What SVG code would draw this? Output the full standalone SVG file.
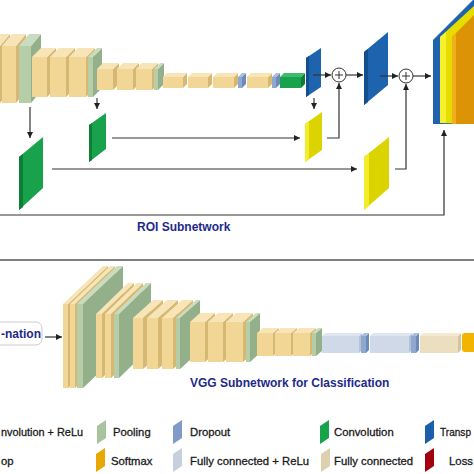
<svg xmlns="http://www.w3.org/2000/svg" width="474" height="474" viewBox="0 0 474 474">
<defs>
<marker id="ah" markerWidth="6" markerHeight="6" refX="6" refY="3" orient="auto" markerUnits="userSpaceOnUse"><path d="M0,0 L6,3 L0,6 z" fill="#222"/></marker>
<style>
.bf{fill:#f1d695}.bt{fill:#f7e5b8}.bs{fill:#d6b872}
.gf{fill:#b6cea8}.gt{fill:#cadcbf}.gs{fill:#93b08b}
.df{fill:#8ea8cf}.dt{fill:#a9bedc}.ds{fill:#6d8bb9}
.cf{fill:#17a24b}.ct{fill:#3cbc6a}.cs{fill:#0d7d37}
.lf{fill:#cfd9e7}.lt{fill:#dfe6f0}.ls{fill:#b3c2d6}
.ff{fill:#ecdfc0}.ft{fill:#f3eacf}.fs{fill:#d4c49e}
.ln{fill:none;stroke:#333;stroke-width:1.2}
.ttl{font-family:"Liberation Sans",Arial,sans-serif;font-weight:bold;font-size:12px;fill:#1d2a8c}
.lg{font-family:"Liberation Sans",Arial,sans-serif;font-size:11.3px;fill:#1a1a1a;stroke:#1a1a1a;stroke-width:0.3}
</style>
</defs>
<rect width="474" height="474" fill="#fff"/>

<!-- ROI encoder blocks -->
<g id="roi-block-a">
<polygon class="bs" points="0,46 10,34 10,91 0,103"/><polygon class="bt" points="-12,46 -2,34 10,34 0,46"/><rect class="bf" x="-12" y="46" width="12" height="57"/>
<polygon class="bs" points="16,46 26,34 26,91 16,103"/><polygon class="bt" points="2,46 12,34 26,34 16,46"/><rect class="bf" x="2" y="46" width="14" height="57"/>
<polygon class="gs" points="31,46 41,34 41,91 31,103"/><polygon class="gt" points="19,46 29,34 41,34 31,46"/><rect class="gf" x="19" y="46" width="12" height="57"/>
</g>
<g id="roi-block-b">
<polygon class="bs" points="47,57 56,48 56,88 47,97"/><polygon class="bt" points="32,57 41,48 56,48 47,57"/><rect class="bf" x="32" y="57" width="15" height="40"/>
<polygon class="bs" points="66,57 75,48 75,88 66,97"/><polygon class="bt" points="50,57 59,48 75,48 66,57"/><rect class="bf" x="50" y="57" width="16" height="40"/>
<polygon class="bs" points="86,57 95,48 95,88 86,97"/><polygon class="bt" points="69,57 78,48 95,48 86,57"/><rect class="bf" x="69" y="57" width="17" height="40"/>
<polygon class="gs" points="93,57 102,48 102,88 93,97"/><polygon class="gt" points="88,57 97,48 102,48 93,57"/><rect class="gf" x="88" y="57" width="5" height="40"/>
</g>
<g id="roi-block-c">
<polygon class="bs" points="113,69 119,63 119,84 113,90"/><polygon class="bt" points="97,69 103,63 119,63 113,69"/><rect class="bf" x="97" y="69" width="16" height="21"/>
<polygon class="bs" points="133,69 139,63 139,84 133,90"/><polygon class="bt" points="117,69 123,63 139,63 133,69"/><rect class="bf" x="117" y="69" width="16" height="21"/>
<polygon class="bs" points="152,69 158,63 158,84 152,90"/><polygon class="bt" points="136,69 142,63 158,63 152,69"/><rect class="bf" x="136" y="69" width="16" height="21"/>
<polygon class="gs" points="158,69 164,63 164,84 158,90"/><polygon class="gt" points="154,69 160,63 164,63 158,69"/><rect class="gf" x="154" y="69" width="4" height="21"/>
</g>
<g id="roi-block-d">
<polygon class="bs" points="183,77 187,73 187,84 183,88"/><polygon class="bt" points="163,77 167,73 187,73 183,77"/><rect class="bf" x="163" y="77" width="20" height="11"/>
<polygon class="bs" points="208,77 212,73 212,84 208,88"/><polygon class="bt" points="188,77 192,73 212,73 208,77"/><rect class="bf" x="188" y="77" width="20" height="11"/>
<polygon class="bs" points="234,77 238,73 238,84 234,88"/><polygon class="bt" points="213,77 217,73 238,73 234,77"/><rect class="bf" x="213" y="77" width="21" height="11"/>
<polygon class="ds" points="242,77 246,73 246,84 242,88"/><polygon class="dt" points="238,77 242,73 246,73 242,77"/><rect class="df" x="238" y="77" width="4" height="11"/>
<polygon class="bs" points="268,77 272,73 272,84 268,88"/><polygon class="bt" points="247,77 251,73 272,73 268,77"/><rect class="bf" x="247" y="77" width="21" height="11"/>
<polygon class="ds" points="276,77 280,73 280,84 276,88"/><polygon class="dt" points="272,77 276,73 280,73 276,77"/><rect class="df" x="272" y="77" width="4" height="11"/>
<polygon class="cs" points="301,77 305,73 305,84 301,88"/><polygon class="ct" points="280,77 284,73 305,73 301,77"/><rect class="cf" x="280" y="77" width="21" height="11"/>
</g>

<!-- decoder plates -->
<g id="blue1"><polygon points="306,58 321,48 321,87 306,97" fill="#1e63ae"/><polygon points="306,58 309,56 309,95 306,97" fill="#134f8e"/></g>
<g id="blue2"><polygon points="364,52 388,32 388,85 364,105" fill="#1e63ae"/><polygon points="364,52 368,49 368,102 364,105" fill="#134f8e"/></g>
<g id="green1"><polygon points="89,125 106,113 106,149 89,162" fill="#17a24b"/><polygon points="89,125 92,123 92,160 89,162" fill="#0d7d37"/></g>
<g id="green2"><polygon points="19,157 43,137 43,188 19,210" fill="#17a24b"/><polygon points="19,157 23,154 23,207 19,210" fill="#0d7d37"/></g>
<g id="yellow1"><polygon points="305,124 322,112 322,150 305,162" fill="#dcd400"/><polygon points="305,124 309,121 309,159 305,162" fill="#f3ec2a"/></g>
<g id="yellow2"><polygon points="364,157 389,137 389,188 364,210" fill="#dcd400"/><polygon points="364,157 369,153 369,206 364,210" fill="#f3ec2a"/></g>
<g id="sum1"><circle cx="339" cy="75" r="7" fill="#fff" stroke="#333" stroke-width="1"/><path d="M335,75 H343 M339,71 V79" stroke="#333" stroke-width="1"/></g>
<g id="sum2"><circle cx="406" cy="76" r="7" fill="#fff" stroke="#333" stroke-width="1"/><path d="M402,76 H410 M406,72 V80" stroke="#333" stroke-width="1"/></g>
<g id="output-stack">
<polygon points="433,40 474,-1 474,124 433,124" fill="#1e63ae"/>
<polygon points="440,37 474,6 474,124 440,123" fill="#e6dc00"/>
<polygon points="440,37 446,32 446,123 440,123" fill="#f7f02e"/>
<polygon points="452,37 474,15 474,124 452,124" fill="#dc9306"/>
<polygon points="452,37 456,33 456,124 452,124" fill="#f0ad1c"/>
</g>

<!-- connectors -->
<g id="connectors">
<path class="ln" d="M313,75 H331" marker-end="url(#ah)"/>
<path class="ln" d="M346,75 H363" marker-end="url(#ah)"/>
<path class="ln" d="M380,76 H398" marker-end="url(#ah)"/>
<path class="ln" d="M413,76 H431" marker-end="url(#ah)"/>
<path class="ln" d="M314,98 V109" marker-end="url(#ah)"/>
<path class="ln" d="M327,138 H339 V83" marker-end="url(#ah)"/>
<path class="ln" d="M395,169 H406 V84" marker-end="url(#ah)"/>
<path class="ln" d="M97,98 V109" marker-end="url(#ah)"/>
<path class="ln" d="M30,107 V138" marker-end="url(#ah)"/>
<path class="ln" d="M112,138 H300" marker-end="url(#ah)"/>
<path class="ln" d="M52,169 H357" marker-end="url(#ah)"/>
<path class="ln" d="M0,215 H444 V130" marker-end="url(#ah)"/>
<path class="ln" d="M45,337 H62" marker-end="url(#ah)"/>
</g>

<text class="ttl" x="137" y="231">ROI Subnetwork</text>
<line x1="0" y1="260" x2="474" y2="260" stroke="#7f7f7f" stroke-width="2.2"/>

<!-- VGG -->
<g id="concat"><rect x="-20" y="322" width="62" height="23" rx="6" fill="none" stroke="#cccccc" stroke-width="1"/><text class="ttl" x="1" y="338">-nation</text></g>
<g id="vgg-block-1">
<polygon class="bs" points="68,304 108,266 108,350 68,388"/><polygon class="bt" points="63,304 103,266 108,266 68,304"/><rect class="bf" x="63" y="304" width="5" height="84"/>
<polygon class="bs" points="75,304 115,266 115,350 75,388"/><polygon class="bt" points="70,304 110,266 115,266 75,304"/><rect class="bf" x="70" y="304" width="5" height="84"/>
<polygon class="gs" points="83,304 123,266 123,350 83,388"/><polygon class="gt" points="77,304 117,266 123,266 83,304"/><rect class="gf" x="77" y="304" width="6" height="84"/>
</g>
<g id="vgg-block-2">
<polygon class="bs" points="102,314 134,283 134,347 102,378"/><polygon class="bt" points="96,314 128,283 134,283 102,314"/><rect class="bf" x="96" y="314" width="6" height="64"/>
<polygon class="bs" points="111,314 143,283 143,347 111,378"/><polygon class="bt" points="105,314 137,283 143,283 111,314"/><rect class="bf" x="105" y="314" width="6" height="64"/>
<polygon class="gs" points="119,314 151,283 151,347 119,378"/><polygon class="gt" points="114,314 146,283 151,283 119,314"/><rect class="gf" x="114" y="314" width="5" height="64"/>
</g>
<g id="vgg-block-3">
<polygon class="bs" points="143,318 163,300 163,351 143,369"/><polygon class="bt" points="133,318 153,300 163,300 143,318"/><rect class="bf" x="133" y="318" width="10" height="51"/>
<polygon class="bs" points="158,318 178,300 178,351 158,369"/><polygon class="bt" points="147,318 167,300 178,300 158,318"/><rect class="bf" x="147" y="318" width="11" height="51"/>
<polygon class="bs" points="173,318 193,300 193,351 173,369"/><polygon class="bt" points="162,318 182,300 193,300 173,318"/><rect class="bf" x="162" y="318" width="11" height="51"/>
<polygon class="gs" points="180,318 200,300 200,351 180,369"/><polygon class="gt" points="176,318 196,300 200,300 180,318"/><rect class="gf" x="176" y="318" width="4" height="51"/>
</g>
<g id="vgg-block-4">
<polygon class="bs" points="205,322 215,313 215,353 205,362"/><polygon class="bt" points="190,322 200,313 215,313 205,322"/><rect class="bf" x="190" y="322" width="15" height="40"/>
<polygon class="bs" points="223,322 233,313 233,353 223,362"/><polygon class="bt" points="208,322 218,313 233,313 223,322"/><rect class="bf" x="208" y="322" width="15" height="40"/>
<polygon class="bs" points="243,322 253,313 253,353 243,362"/><polygon class="bt" points="226,322 236,313 253,313 243,322"/><rect class="bf" x="226" y="322" width="17" height="40"/>
<polygon class="gs" points="250,322 260,313 260,353 250,362"/><polygon class="gt" points="246,322 256,313 260,313 250,322"/><rect class="gf" x="246" y="322" width="4" height="40"/>
</g>
<g id="vgg-block-5">
<polygon class="bs" points="273,333 279,328 279,351 273,356"/><polygon class="bt" points="257,333 263,328 279,328 273,333"/><rect class="bf" x="257" y="333" width="16" height="23"/>
<polygon class="bs" points="291,333 297,328 297,351 291,356"/><polygon class="bt" points="275,333 281,328 297,328 291,333"/><rect class="bf" x="275" y="333" width="16" height="23"/>
<polygon class="bs" points="310,333 316,328 316,351 310,356"/><polygon class="bt" points="293,333 299,328 316,328 310,333"/><rect class="bf" x="293" y="333" width="17" height="23"/>
<polygon class="gs" points="316,333 322,328 322,351 316,356"/><polygon class="gt" points="312,333 318,328 322,328 316,333"/><rect class="gf" x="312" y="333" width="4" height="23"/>
</g>
<g id="vgg-fc">
<polygon class="ls" points="359,336 362,333 362,350 359,353"/><polygon class="lt" points="322,336 325,333 362,333 359,336"/><rect class="lf" x="322" y="336" width="37" height="17"/>
<polygon class="ds" points="366,336 369,333 369,350 366,353"/><polygon class="dt" points="361,336 364,333 369,333 366,336"/><rect class="df" x="361" y="336" width="5" height="17"/>
<polygon class="ls" points="409,336 412,333 412,350 409,353"/><polygon class="lt" points="370,336 373,333 412,333 409,336"/><rect class="lf" x="370" y="336" width="39" height="17"/>
<polygon class="ds" points="416,336 419,333 419,350 416,353"/><polygon class="dt" points="411,336 414,333 419,333 416,336"/><rect class="df" x="411" y="336" width="5" height="17"/>
<polygon class="fs" points="458,336 461,333 461,350 458,353"/><polygon class="ft" points="420,336 423,333 461,333 458,336"/><rect class="ff" x="420" y="336" width="38" height="17"/>
<rect x="462" y="333" width="16" height="19" rx="3" fill="#f2b400"/>
</g>
<text class="ttl" x="190" y="387">VGG Subnetwork for Classification</text>

<!-- legend -->
<g id="legend">
<text class="lg" x="1" y="436" textLength="82" lengthAdjust="spacingAndGlyphs">nvolution + ReLu</text>
<polygon points="97,426 106,420 106,438 97,444" fill="#a8c49c"/>
<text class="lg" x="113" y="436">Pooling</text>
<polygon points="173,426 182,420 182,438 173,444" fill="#7f9cc8"/>
<text class="lg" x="190" y="436">Dropout</text>
<polygon points="320,426 329,420 329,438 320,444" fill="#17a24b"/>
<text class="lg" x="334" y="436">Convolution</text>
<polygon points="425,426 434,420 434,438 425,444" fill="#1a5fa8"/>
<text class="lg" x="440" y="436" textLength="31" lengthAdjust="spacingAndGlyphs">Transp</text>
<text class="lg" x="1" y="465">op</text>
<polygon points="96,454 105,448 105,466 96,472" fill="#e8a800"/>
<text class="lg" x="111" y="465">Softmax</text>
<polygon points="173,454 182,448 182,466 173,472" fill="#c9d0dd"/>
<text class="lg" x="190" y="465">Fully connected + ReLu</text>
<polygon points="321,454 330,448 330,466 321,472" fill="#ddd0ae"/>
<text class="lg" x="334" y="465">Fully connected</text>
<polygon points="425,454 434,448 434,466 425,472" fill="#a3000f"/>
<text class="lg" x="449" y="465" textLength="24" lengthAdjust="spacingAndGlyphs">Loss</text>
</g>
</svg>
